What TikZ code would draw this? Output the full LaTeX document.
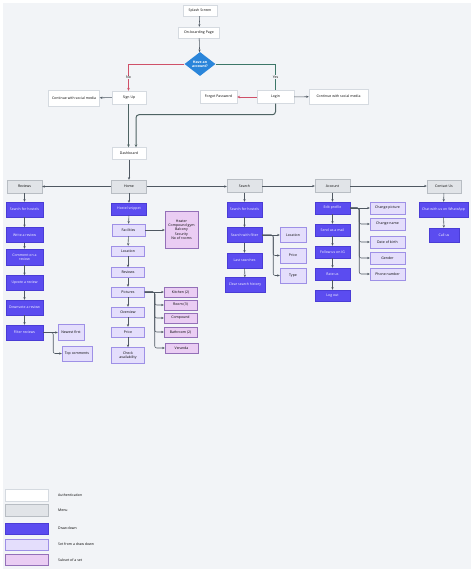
\documentclass[tikz,border=0pt]{standalone}
\usepackage{fontspec}
\setmainfont{Open Sans}
\usetikzlibrary{shapes.geometric,arrows.meta}
\definecolor{bg}{HTML}{F2F4F7}
\definecolor{authb}{HTML}{D5DAE0}
\definecolor{menuf}{HTML}{E1E4E8}
\definecolor{menub}{HTML}{B8BDC3}
\definecolor{ddf}{HTML}{5B4CF0}
\definecolor{ddb}{HTML}{4A3CD6}
\definecolor{setf}{HTML}{E4DEFC}
\definecolor{setb}{HTML}{9E90E6}
\definecolor{subf}{HTML}{EACDF3}
\definecolor{subb}{HTML}{9470B8}
\definecolor{dia}{HTML}{2A85DA}
\definecolor{lc}{HTML}{4F5862}
\definecolor{flowc}{HTML}{4E6363}
\definecolor{noc}{HTML}{CF5068}
\definecolor{yesc}{HTML}{3D7768}
\begin{document}
\begin{tikzpicture}[x=1pt,y=-1pt,
  base/.style={rectangle, inner sep=0.5pt, font=\fontsize{3.5}{4.3}\selectfont, align=center, line width=0.45pt},
  sz/.style 2 args={minimum width=#1, minimum height=#2},
  auth/.style={base, fill=white, draw=authb},
  menu/.style={base, fill=menuf, draw=menub},
  dd/.style={base, fill=ddf, draw=ddb, text=white},
  setb/.style={base, fill=setf, draw=setb},
  subs/.style={base, fill=subf, draw=subb},
  conn/.style={draw=lc, line width=0.55pt, -{Stealth[length=2.6pt,width=2.2pt]}},
  flow/.style={draw=flowc, line width=1pt, rounded corners=3pt, -{Stealth[length=2.8pt,width=2.6pt]}},
  branch/.style={conn, rounded corners=2pt},
  lbl/.style={font=\fontsize{3.5}{4.3}\selectfont, fill=bg, inner sep=0.6pt},
  legtxt/.style={font=\fontsize{3.5}{4.3}\selectfont, anchor=west, inner sep=0pt}
]
\useasboundingbox (0,0) rectangle (474,571);
\fill[white] (0,0) rectangle (474,571);
\fill[bg] (3,3) rectangle (471,569);

% ---------- authentication ----------
\node[auth, sz={34}{11}] (splash) at (200,10.5) {Splash Screen};
\node[auth, sz={41}{11}] (onb) at (199,32.5) {On-boarding Page};
\node[diamond, fill=dia, text=white, inner sep=0pt, minimum width=31, minimum height=24,
      font=\fontsize{3.5}{4.3}\selectfont\bfseries, align=center] (acc) at (200,64) {Have an\\account?};
\node[auth, sz={34}{13}] (signup) at (129,97.5) {Sign Up};
\node[auth, sz={51}{16}] (socl) at (74,98) {Continue with social media};
\node[auth, sz={37}{13}] (forgot) at (218.5,97) {Forgot Password};
\node[auth, sz={37}{13}] (login) at (275.5,97) {Login};
\node[auth, sz={59}{15}] (socr) at (338.5,96.5) {Continue with social media};
\node[auth, sz={34}{12}] (dash) at (129,153.5) {Dashboard};

\draw[conn] (splash) -- (onb);
\draw[conn] (onb) -- (acc);
\draw[draw=noc, line width=1pt, -{Stealth[length=2.8pt,width=2.6pt]}] (acc.west) -| ([xshift=-0.5pt]signup.north) node[pos=0.75, lbl] {No};
\draw[draw=yesc, line width=1pt] (acc.east) -| (login.north) node[pos=0.75, lbl] {Yes};
\draw[conn] (signup) -- (socl);
\draw[draw=noc, line width=1pt, -{Stealth[length=2.8pt,width=2.6pt]}] (login) -- (forgot);
\draw[conn] (login) -- (socr);
\draw[flow] ([xshift=-0.5pt]signup.south) -- ([xshift=-0.5pt]signup.south |- dash.north);
\draw[flow] (login.south) -- ++(0,11) -| ([xshift=7pt]dash.north);

% ---------- menus ----------
\node[menu, sz={35}{13}] (rev) at (24.5,186.5) {Reviews};
\node[menu, sz={35}{13}] (home) at (129,186.5) {Home};
\node[menu, sz={35}{13}] (search) at (244.5,186) {Search};
\node[menu, sz={35}{13}] (account) at (332.5,186) {Account};
\node[menu, sz={34}{13}] (contact) at (444,186.5) {Contact Us};

\draw[conn] (dash) -- (home);
\draw[conn] (home) -- (rev);
\draw[conn] (home.east) -- (search.west |- home.east);
\draw[conn] (search) -- (account);
\draw[conn] (account.east) -- (contact.west |- account.east);

% ---------- reviews column ----------
\node[dd, sz={37}{15}] (r1) at (24.5,209.5) {Search for hostels};
\node[dd, sz={37}{15}] (r2) at (24.5,235) {Write a review};
\node[dd, sz={37}{16}] (r3) at (24.5,257) {Comment on a\\review};
\node[dd, sz={37}{15}] (r4) at (24.5,283) {Upvote a review};
\node[dd, sz={37}{15}] (r5) at (24.5,307.5) {Downvote a review};
\node[dd, sz={37}{15}] (r6) at (24.5,332.5) {Filter reviews};
\node[setb, sz={26}{16}] (newest) at (71,332.5) {Newest first};
\node[setb, sz={30}{15}] (topc) at (77,353.5) {Top comments};
\draw[conn] (rev) -- (r1);
\draw[conn] (r1) -- (r2);
\draw[conn] (r2) -- (r3);
\draw[conn] (r3) -- (r4);
\draw[conn] (r4) -- (r5);
\draw[conn] (r5) -- (r6);
\draw[conn] (r6) -- (newest);
\draw[branch] (r6.east) -- ++(10,0) |- (topc.west);

% ---------- home column ----------
\node[dd, sz={35}{12}] (h1) at (129,209) {Hostel snippet};
\node[setb, sz={33}{12}] (fac) at (128.5,230) {Facilities};
\node[setb, sz={33}{10}] (loc) at (128,251) {Location};
\node[setb, sz={33}{10}] (hrev) at (128,272.5) {Reviews};
\node[setb, sz={33}{10}] (pic) at (128,292) {Pictures};
\node[setb, sz={33}{10}] (ovw) at (128,312) {Overview};
\node[setb, sz={33}{10}] (price) at (128,332) {Price};
\node[setb, sz={33}{16}] (check) at (128,355.5) {Check\\availability};
\node[subs, sz={33}{37}] (faclist) at (181.5,229.5) {Heater\\Compound gym\\Balcony\\Security\\No of rooms};
\node[subs, sz={33}{10}] (kit) at (180.5,292) {Kitchen (2)};
\node[subs, sz={33}{10}] (room) at (180.5,305) {Room (3)};
\node[subs, sz={33}{10}] (comp) at (180.5,318) {Compound};
\node[subs, sz={33}{10}] (bath) at (180.5,332) {Bathroom (2)};
\node[subs, sz={33}{10}] (ver) at (181.5,348) {Veranda};
\draw[conn] (home) -- (h1);
\draw[conn] (h1) -- (fac);
\draw[conn] (fac) -- (loc);
\draw[conn] (loc) -- (hrev);
\draw[conn] (hrev) -- (pic);
\draw[conn] (pic) -- (ovw);
\draw[conn] (ovw) -- (price);
\draw[conn] (price) -- (check);
\draw[conn] (fac.east) -- (faclist.west |- fac.east);
\draw[conn] (pic) -- (kit);
\draw[branch] (pic.east) -- ++(10,0) |- (room.west);
\draw[branch] (pic.east) -- ++(10,0) |- (comp.west);
\draw[branch] (pic.east) -- ++(10,0) |- (bath.west);
\draw[branch] (pic.east) -- ++(10,0) |- (ver.west);

% ---------- search column ----------
\node[dd, sz={35}{15}] (s1) at (244.5,209.5) {Search for hostels};
\node[dd, sz={35}{15}] (s2) at (244.5,235) {Search with filter};
\node[dd, sz={35}{15}] (s3) at (244.5,260.5) {Last searches};
\node[dd, sz={40}{15}] (s4) at (245,285) {Clear search history};
\node[setb, sz={26}{15}] (sloc) at (293,235) {Location};
\node[setb, sz={26}{15}] (sprice) at (293,255.5) {Price};
\node[setb, sz={26}{15}] (stype) at (293,275.5) {Type};
\draw[conn] (search) -- (s1);
\draw[conn] (s1) -- (s2);
\draw[conn] (s2) -- (s3);
\draw[conn] (s3) -- (s4);
\draw[conn] (s2) -- (sloc);
\draw[branch] (s2.east) -- ++(11,0) |- (sprice.west);
\draw[branch] (s2.east) -- ++(11,0) |- (stype.west);

% ---------- account column ----------
\node[dd, sz={35}{12}] (a1) at (332.5,208) {Edit profile};
\node[dd, sz={35}{12}] (a2) at (332.5,230) {Send us a mail};
\node[dd, sz={35}{12}] (a3) at (332.5,252) {Follow us on IG};
\node[dd, sz={35}{12}] (a4) at (332.5,274) {Rate us};
\node[dd, sz={35}{11}] (a5) at (332.5,295.5) {Log out};
\node[setb, sz={35}{12}] (e1) at (387.5,208) {Change picture};
\node[setb, sz={35}{12}] (e2) at (387.5,224) {Change name};
\node[setb, sz={35}{12}] (e3) at (387.5,242) {Date of birth};
\node[setb, sz={35}{12}] (e4) at (387.5,258) {Gender};
\node[setb, sz={35}{12}] (e5) at (387.5,274) {Phone number};
\draw[conn] (account) -- (a1);
\draw[conn] (a1) -- (a2);
\draw[conn] (a2) -- (a3);
\draw[conn] (a3) -- (a4);
\draw[conn] (a4) -- (a5);
\draw[conn] (a1) -- (e1);
\draw[branch] (a1.east) -- ++(9,0) |- (e2.west);
\draw[branch] (a1.east) -- ++(9,0) |- (e3.west);
\draw[branch] (a1.east) -- ++(9,0) |- (e4.west);
\draw[branch] (a1.east) -- ++(9,0) |- (e5.west);

% ---------- contact column ----------
\node[dd, sz={49}{15}] (c1) at (443.5,209.5) {Chat with us on WhatsApp};
\node[dd, sz={30}{14}] (c2) at (444,235) {Call us};
\draw[conn] (contact) -- (c1);
\draw[conn] (c1) -- (c2);

% ---------- legend ----------
\node[auth, sz={43}{12}] (lg1) at (26.5,495) {};
\node[menu, sz={43}{12}] (lg2) at (26.5,510.5) {};
\node[dd, sz={43}{11}] (lg3) at (26.5,528.5) {};
\node[setb, sz={43}{11}] (lg4) at (26.5,544.5) {};
\node[subs, sz={43}{11}] (lg5) at (26.5,560) {};
\node[legtxt] (lt1) at (58,495) {Authentication};
\node[legtxt] (lt2) at (58,510.5) {Menu};
\node[legtxt] (lt3) at (58,528.5) {Draw down};
\node[legtxt] (lt4) at (58,544.5) {Set from a draw down};
\node[legtxt] (lt5) at (58,560) {Subset of a set};
\end{tikzpicture}
\end{document}
